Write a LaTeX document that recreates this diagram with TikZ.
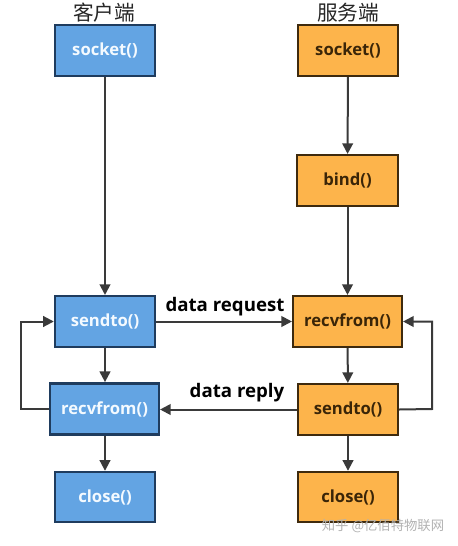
\documentclass[tikz,border=0pt]{standalone}
\usepackage{fontspec}
\setmainfont{Open Sans}
\newfontfamily\cjk{Noto Sans CJK SC}
\usetikzlibrary{arrows.meta}
\definecolor{cfill}{HTML}{63A4E3}
\definecolor{cdraw}{HTML}{1F3C5E}
\definecolor{sfill}{HTML}{FDB44B}
\definecolor{sdraw}{HTML}{3E2A0E}
\definecolor{stext}{HTML}{3A2508}
\definecolor{ctext}{HTML}{F4FAFF}
\definecolor{lcol}{HTML}{3A3A3A}
\begin{document}
\begin{tikzpicture}[x=0.75pt,y=-0.75pt,
  cbox/.style={draw=cdraw,line width=1.8pt,fill=cfill,text=ctext,font=\bfseries\fontsize{12.5}{14}\selectfont,inner sep=0pt},
  sbox/.style={draw=sdraw,line width=1.8pt,fill=sfill,text=stext,font=\bfseries\fontsize{12.5}{14}\selectfont,inner sep=0pt},
  conn/.style={draw=lcol,line width=1.5pt,-{Triangle[length=8pt,width=8pt]}},
  title/.style={font=\cjk\fontsize{15.5}{17}\selectfont,text=black!85},
  lab/.style={font=\bfseries\fontsize{14}{16}\selectfont,text=black}]
\useasboundingbox (0,0) rectangle (457,546);
\node[title] (tc) at (104,13) {客户端};
\node[title] (ts) at (348,13) {服务端};
% client
\node[cbox,minimum width=75pt,minimum height=38pt] (csock) at (105,50.5) {socket()};
\node[cbox,minimum width=75pt,minimum height=38pt] (csend) at (105,321.5) {sendto()};
\node[cbox,minimum width=81.5pt,minimum height=38.5pt] (crecv) at (104.5,409) {recvfrom()};
\node[cbox,minimum width=75pt,minimum height=37.5pt] (cclose) at (105,497) {close()};
% server
\node[sbox,minimum width=75pt,minimum height=38pt] (ssock) at (348,50.5) {socket()};
\node[sbox,minimum width=75.5pt,minimum height=38pt] (sbind) at (347.5,180.5) {bind()};
\node[sbox,minimum width=81.5pt,minimum height=38pt] (srecv) at (347.5,321.5) {recvfrom()};
\node[sbox,minimum width=75pt,minimum height=38pt] (ssend) at (348,409.5) {sendto()};
\node[sbox,minimum width=75pt,minimum height=37.5pt] (sclose) at (348,497) {close()};
% vertical
\draw[conn] (csock) -- (csend);
\draw[conn] (csend) -- (crecv.north -| csend);
\draw[conn] (crecv.south -| cclose) -- (cclose);
\draw[conn] (ssock) -- (sbind);
\draw[conn] (sbind) -- (srecv);
\draw[conn] (srecv) -- (ssend);
\draw[conn] (ssend) -- (sclose);
% horizontal
\draw[conn] (csend) -- (srecv);
\draw[conn] (ssend.west) -- (crecv.east |- ssend.west);
\node[lab] (lreq) at (225,307) {data request};
\node[lab] (lrep) at (237,393) {data reply};
% loops
\coordinate (l1) at (21,409);
\coordinate (r1) at (432,409);
\draw[conn] (crecv.west) -- (l1) -- (l1 |- csend.west) -- (csend.west);
\draw[conn] (ssend.east) -- (r1) -- (r1 |- srecv.east) -- (srecv.east);
% watermark
\node[font=\cjk\fontsize{10}{12}\selectfont,text=black!30] (wm) at (383,526) {知乎 @亿佰特物联网};
\end{tikzpicture}
\end{document}
